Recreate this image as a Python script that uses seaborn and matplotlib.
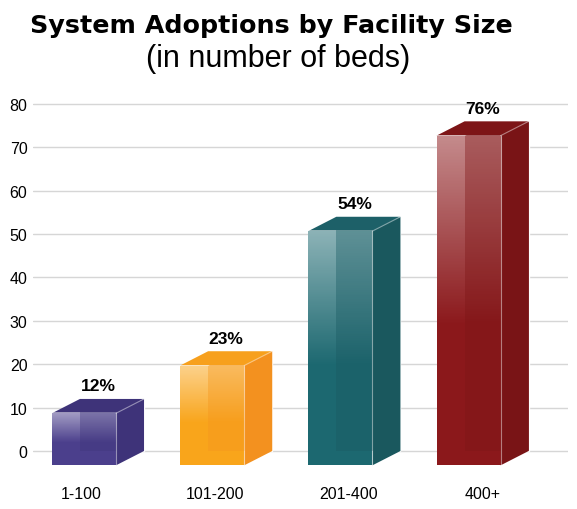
import numpy as np
import matplotlib
matplotlib.use("Agg")
import matplotlib.pyplot as plt
import matplotlib.colors as mcolors
from matplotlib.patches import Polygon, Rectangle
import seaborn as sns

# ---- data ----
categories = ["1-100", "101-200", "201-400", "400+"]
values = [12, 23, 54, 76]
value_labels = ["12%", "23%", "54%", "76%"]
y_ticks = [0, 10, 20, 30, 40, 50, 60, 70, 80]

# ---- style ----
front_colors = ["#4b3f8c", "#f9a51b", "#1c6870", "#8b181b"]
side_colors = ["#3e3379", "#f3911f", "#1a585e", "#791416"]
top_colors = ["#3e3379", "#f7a01d", "#1d6068", "#7d1517"]

sns.set_theme(style="white")
plt.rcParams["font.family"] = ["Liberation Sans", "DejaVu Sans"]

fig = plt.figure(figsize=(5.77, 5.10), dpi=100)
ax = fig.add_axes([0.0572, 0.0831, 0.9272, 0.7153])

width = 0.5
dx = 0.2184   # depth offset (x, data units)
dy = 3.3      # depth offset (y, data units)

sns.barplot(x=categories, y=values, hue=categories, palette=side_colors,
            width=width, saturation=1, legend=False, ax=ax, zorder=1)

patches = sorted([p for p in ax.patches if isinstance(p, Rectangle)],
                 key=lambda p: p.get_x())


def blend(c1, c2, t):
    a = np.array(mcolors.to_rgb(c1))
    b = np.array(mcolors.to_rgb(c2))
    return tuple(a * (1 - t) + b * t)


def highlight(ax, l, r, b, t, amax, z):
    n = 200
    frac = np.linspace(0, 1, n)  # 0 at top
    alpha = np.clip(1 - frac / 0.58, 0, 1) * amax
    img = np.ones((n, 1, 4))
    img[:, 0, 3] = alpha
    ax.imshow(img, extent=[l, r, b, t], aspect="auto", origin="upper",
              interpolation="bilinear", zorder=z)


for i, p in enumerate(patches):
    x0 = p.get_x()
    w = p.get_width()
    h = p.get_height()
    fl, fr = x0 - dx, x0 + w - dx
    fb, ft = -dy, h - dy
    # right side
    ax.add_patch(Polygon([(fr, fb), (fr, ft), (x0 + w, h), (x0 + w, 0)],
                         closed=True, facecolor=side_colors[i],
                         edgecolor="none", zorder=2))
    # top
    ax.add_patch(Polygon([(fl, ft), (fr, ft), (x0 + w, h), (x0, h)],
                         closed=True, facecolor=top_colors[i],
                         edgecolor="none", zorder=2))
    # front: left part over background, right part over back face
    ax.add_patch(Rectangle((fl, fb), x0 - fl, ft - fb,
                           facecolor=front_colors[i], edgecolor="none", zorder=3))
    ax.add_patch(Rectangle((x0, 0), fr - x0, ft,
                           facecolor=blend(front_colors[i], side_colors[i], 0.35),
                           edgecolor="none", zorder=3))
    ax.add_patch(Rectangle((x0, fb), fr - x0, dy,
                           facecolor=front_colors[i], edgecolor="none", zorder=3))
    highlight(ax, fl, x0, fb, ft, 0.5, 4)
    highlight(ax, x0, fr, fb, ft, 0.3, 4)
    # light edges
    ax.plot([fr, fr], [fb, ft], color="white", alpha=0.45, lw=0.8, zorder=5)
    ax.plot([fr, x0 + w], [ft, h], color="white", alpha=0.45, lw=0.8, zorder=5)
    # value label
    ax.text(x0 + w / 2 - dx / 2, h + 3.0, value_labels[i], ha="center",
            va="center", fontsize=12.5, fontweight="bold", color="black",
            zorder=6, clip_on=False)

ax.set_xlim(-0.616, 3.557)
ax.set_ylim(-3.6, 80.5)
ax.set_yticks(y_ticks)
ax.set_yticklabels([str(v) for v in y_ticks], fontsize=11.5)
tick_pos = [i * 1.044 - 0.023 - dx for i in range(len(categories))]
ax.set_xticks(tick_pos)
ax.set_xticklabels(categories, fontsize=11.5)
ax.tick_params(axis="y", length=0, pad=4, colors="black")
ax.tick_params(axis="x", length=0, pad=14, colors="black")
ax.set_xlabel("")
ax.set_ylabel("")
for s in ax.spines.values():
    s.set_visible(False)
ax.yaxis.grid(True, color="#d6d6d6", lw=1)
ax.xaxis.grid(False)
ax.set_axisbelow(True)

fig.text(0.47, 1 - 33.3 / 510, "System Adoptions by Facility Size",
         ha="center", va="baseline", fontsize=18.3, fontweight="bold",
         family=["DejaVu Sans"], color="black")
fig.text(0.482, 1 - 67 / 510, "(in number of beds)", ha="center",
         va="baseline", fontsize=22, color="black")

fig.savefig("out.png", dpi=100)
